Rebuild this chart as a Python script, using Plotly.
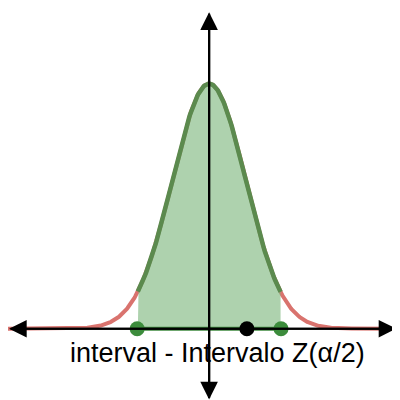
import numpy as np
import plotly.graph_objects as go

z_crit = 1.96
z_point = 1.03
label = "interval - Intervalo Z(α/2)"

x = np.linspace(-5.7, 5.5, 600)
pdf = np.exp(-x**2 / 2) / np.sqrt(2 * np.pi)
inner = (x >= -z_crit) & (x <= z_crit)

fig = go.Figure()
fig.add_trace(go.Scatter(x=x, y=pdf, mode="lines", line=dict(color="#d9736e", width=4)))
xi = x[inner]
fig.add_trace(go.Scatter(x=np.r_[xi[0], xi, xi[-1]], y=np.r_[0, pdf[inner], 0], mode="lines",
                         fill="toself", fillcolor="rgba(120,180,120,0.6)",
                         line=dict(color="rgba(0,0,0,0)", width=0)))
fig.add_trace(go.Scatter(x=xi, y=pdf[inner], mode="lines", line=dict(color="#5b8a4e", width=4.5)))
fig.add_trace(go.Scatter(x=[-z_crit, z_crit], y=[0, 0], mode="lines", line=dict(color="#3f8a3f", width=4)))

# axes with arrows
for ax_, ay_, x0, y0 in [(5.1, 0, -5.45, 0), (-5.45, 0, 5.1, 0), (0, -0.115, 0, 0.515), (0, 0.515, 0, -0.115)]:
    fig.add_annotation(x=ax_, y=ay_, ax=x0, ay=y0, xref="x", yref="y", axref="x", ayref="y",
                       showarrow=True, arrowhead=2, arrowsize=1.6, arrowwidth=2.2, arrowcolor="black", text="")

fig.add_trace(go.Scatter(x=[-z_crit, z_crit], y=[0, 0], mode="markers", marker=dict(color="#3c8c3c", size=15)))
fig.add_trace(go.Scatter(x=[z_point], y=[0], mode="markers", marker=dict(color="black", size=15)))

fig.add_annotation(x=4.3, y=-0.04, text=label, showarrow=False, xanchor="right", yanchor="middle",
                   font=dict(family="Liberation Sans", size=27, color="black"))

fig.update_layout(width=400, height=400, margin=dict(l=0, r=0, t=0, b=0), showlegend=False,
                  plot_bgcolor="white", paper_bgcolor="white",
                  xaxis=dict(range=[-5.48, 5.42], visible=False),
                  yaxis=dict(range=[-0.129, 0.522], visible=False))
fig.write_html("out.html")
